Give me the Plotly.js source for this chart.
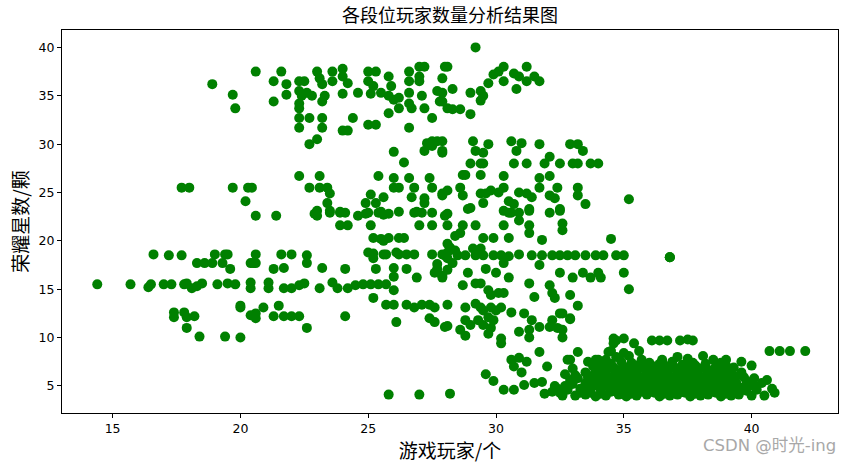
<!DOCTYPE html>
<html>
<head>
<meta charset="utf-8">
<script src="https://cdn.plot.ly/plotly-3.0.1.min.js"></script>
<style>html,body{margin:0;padding:0;background:#fff;}#chart{width:853px;height:465px;}</style>
</head>
<body>
<div id="chart"></div>
<script>
// [游戏玩家/个, 荣耀星数/颗]
const bandTop = [
  [20.6,37.5],[18.9,36.2],[19.7,35.1],[19.8,33.7],
  [21.6,37.5],[21.3,36.5],[21.8,36.2],[21.8,35.1],[21.3,34.4],
  [22.3,36.5],[22.3,35.5],[22.4,35.0],[22.3,34.2],[22.3,33.7],[22.5,36.5],[22.6,35.3],[22.8,35.0],
  [23.0,37.5],[23.1,36.8],[23.2,36.2],[23.3,35.0],[23.2,34.4],[23.6,37.5],[23.6,36.5],
  [24.0,37.8],[24.0,37.0],[24.2,36.3],[24.0,35.2],[24.6,35.3],[25.0,37.5],[25.3,37.5],[25.0,36.5],
  [25.2,36.0],[25.1,35.2],[25.5,35.3],[25.8,37.0],[25.9,36.0],[25.8,35.0],[26.0,34.6],[25.8,33.2],
  [26.2,33.7],[26.2,34.8],[26.6,37.5],[26.6,36.5],[26.6,35.3],[26.6,34.2],[26.7,33.7],[27.0,38.0],
  [27.2,38.0],[27.0,37.0],[27.0,36.5],[27.1,35.0],[27.2,33.7],[27.5,32.7],[28.1,38.0],[27.9,36.8],
  [27.7,35.5],[27.8,34.4],[28.1,33.7],[28.0,38.0],[28.3,35.7],[27.9,35.3],[27.9,34.4],
  [29.2,40.0],[29.0,35.3],[29.4,35.5],[29.5,35.0],[29.4,34.5],[29.7,36.3],[29.9,37.2],[30.1,37.5],
  [30.3,38.0],[30.3,36.5],[30.7,37.3],[30.9,37.0],[31.2,38.0],[31.2,36.5],[31.5,37.0],[31.7,36.5],
  [30.8,35.7],[28.3,33.6],[28.6,33.6],[29.0,33.1]
];
const bandUpper = [
  [22.3,32.7],[22.3,31.7],[22.7,32.7],[23.2,32.7],[23.2,31.7],[24.4,32.7],[24.0,31.4],[24.2,31.4],
  [25.0,32.0],[25.3,32.0],[26.6,31.7],[22.7,30.0],[23.0,30.5],
  [27.3,30.1],[27.5,30.3],[27.7,30.3],[27.2,29.3],[27.5,29.8],[27.9,29.3],[26.0,29.2],[26.4,28.1],
  [27.9,30.3],[27.9,29.1],[29.1,30.3],[29.7,30.0],[29.2,29.3],[29.5,29.1],[30.6,30.3],[31.0,30.1],
  [30.8,29.3],[31.7,30.0],[32.9,30.0],[33.2,30.0],[33.4,29.3],
  [29.0,28.0],[29.4,28.0],[29.5,28.0],[30.7,28.0],[31.2,28.0],[32.1,28.7],[31.9,28.0],[32.5,28.0],
  [33.0,28.0],[33.2,28.0],[33.7,28.0],[34.0,28.0],
  [28.7,26.8],[28.8,26.8],[29.4,26.8],[30.3,26.7],[31.7,26.5],[32.1,26.7],
  [22.3,26.7],[23.1,26.7],[25.4,26.7],[26.0,26.5],[26.6,26.5],[27.4,26.5]
];
const bandMid = [
  [17.7,25.5],[18.0,25.5],[19.7,25.5],[20.3,25.5],[20.45,25.5],[20.2,24.1],[20.6,22.6],
  [22.7,25.5],[23.1,25.5],[23.4,25.5],[23.5,24.9],[26.0,25.5],[26.2,25.5],[26.8,25.5],[27.5,25.5],
  [25.1,24.8],[25.6,24.5],[24.9,23.9],[25.3,23.9],[26.7,24.5],[27.2,24.4],[27.2,23.9],[27.9,24.9],
  [28.1,25.2],[23.4,23.9],[23.0,23.1],[23.0,22.6],[23.5,23.1],[23.9,22.9],[24.1,22.9],[21.4,22.6],
  [24.6,22.6],[25.0,22.9],[25.4,22.9],[25.8,22.8],[26.8,22.9],[27.1,22.9],[27.5,22.9],[28.1,22.8],
  [28.6,25.5],[28.7,24.7],[27.9,24.7],[29.4,24.9],[29.6,24.9],[29.8,25.2],[30.1,25.0],[30.3,25.5],
  [29.5,23.9],[30.5,24.1],[30.7,23.8],[30.9,25.0],[31.2,24.9],[31.4,24.5],[31.3,23.3],[31.7,25.5],
  [32.1,24.7],[32.4,25.5],[32.3,24.4],[32.5,23.3],[33.2,25.5],[33.2,24.7],[33.5,23.8],[35.2,24.3],
  [32.1,22.9],[28.9,23.3],[29.0,23.4],[30.5,22.9],[30.9,22.9],
  [22.9,22.8],[23.5,22.9],[23.9,23.0],[24.9,22.8],[25.5,23.0],[25.6,22.7],[26.2,23.0],[26.9,23.0],
  [28.0,22.6],[30.3,23.1],[30.6,22.9],[31.3,23.1],[32.5,23.1],
  [23.9,21.6],[24.2,21.6],[25.1,21.6],[27.0,21.6],[27.5,21.6],[28.1,21.6],[28.7,21.6],[29.2,21.6],
  [30.3,21.6],[30.9,22.1],[31.3,21.6],[31.3,20.8],[32.6,21.8],[32.6,21.1],
  [25.2,20.3],[25.5,20.2],[25.6,20.0],[25.8,20.3],[26.2,20.3],[26.4,20.3],[28.1,19.7],[28.4,20.5],
  [28.6,20.8],[29.5,20.3],[29.9,20.3],[30.5,20.3],[31.8,20.1],[34.5,20.2]
];
const bandLow = [
  [16.6,18.6],[17.2,18.5],[17.7,18.5],[19.0,18.6],[19.4,18.6],[19.5,18.6],[20.6,18.6],
  [21.6,18.6],[22.0,18.6],[22.6,18.5],[25.0,18.8],[25.2,18.7],[25.2,18.2],[25.6,18.6],[25.7,18.6],
  [26.1,18.8],[26.2,18.6],[26.5,18.6],[26.8,18.6],[27.5,18.6],[27.9,18.6],[28.1,18.8],[28.1,18.2],
  [28.2,19.3],[28.4,19.0],[28.0,18.5],[28.5,18.5],[28.8,18.5],[29.1,19.2],[29.4,19.2],[29.2,18.5],
  [29.5,18.5],[29.9,18.5],[30.2,18.5],[30.5,18.4],[30.9,18.6],[31.4,18.5],[31.8,18.5],[32.2,18.5],
  [32.5,18.5],[32.8,18.5],[33.1,18.5],[33.5,18.5],[33.9,18.5],[34.2,18.5],[34.7,18.5],[35.0,18.5],
  [36.8,18.3],[36.8,18.3],[36.8,18.3],
  [18.3,17.7],[18.6,17.7],[18.9,17.7],[19.3,17.7],[19.6,17.1],[20.4,17.7],[20.6,17.7],[20.5,17.7],
  [21.3,17.1],[21.7,17.2],[22.6,17.7],[23.2,17.2],[24.1,17.1],[25.3,17.1],[26.0,17.2],[26.0,16.3],
  [26.5,17.1],[27.7,17.6],[27.7,17.1],[27.6,16.7],[27.9,16.4],[28.1,17.0],[26.9,16.2],
  [28.3,17.7],[28.9,16.7],[29.6,17.1],[30.0,16.7],[30.3,17.7],[30.5,16.2],[31.7,17.5],[32.5,16.7],
  [33.0,16.2],[33.4,16.7],[33.7,16.2],[34.0,16.7],[34.1,16.2],[35.0,16.7],[27.9,16.2],
  [14.4,15.5],[15.7,15.5],[16.4,15.2],[16.5,15.5],[17.0,15.5],[17.3,15.5],[17.8,15.5],[17.9,15.6],
  [18.1,15.1],[18.3,15.3],[18.5,15.6],[19.1,15.5],[19.5,15.6],[19.8,15.5],[20.4,15.7],[20.4,15.1],
  [21.1,15.7],[21.1,15.1],[21.7,15.1],[22.0,15.1],[22.3,15.4],[22.5,15.6],[23.1,15.1],[23.6,15.7],
  [23.8,15.1],[24.2,15.1],[24.5,15.4],[24.8,15.5],[25.1,15.5],[25.4,15.5],[25.7,15.5],[26.0,14.9],
  [25.2,14.1],[28.7,15.4],[29.2,15.6],[29.4,15.6],[29.7,14.9],[29.8,14.4],[30.1,14.6],[30.3,14.6],
  [31.3,15.6],[31.5,14.2],[32.1,15.4],[32.2,14.6],[32.3,14.1],[32.9,14.4],[33.2,13.3],[35.2,15.0]
];
const bandBottom = [
  [25.7,13.4],[26.0,13.4],[26.5,13.4],[26.8,13.1],[27.1,13.4],[27.4,13.4],[27.6,13.1],[28.1,13.4],
  [20.9,13.1],[21.5,13.3],[20.0,13.3],[20.0,13.1],
  [28.8,13.1],[29.2,13.5],[29.4,13.1],[29.5,12.8],[29.8,13.1],[30.0,12.8],[30.2,13.1],[30.6,12.6],
  [31.1,12.5],[32.5,12.5],[32.9,12.0],[32.6,12.5],[32.9,11.9],
  [17.4,12.6],[17.4,12.1],[17.8,12.6],[17.9,12.1],[18.2,12.2],[20.4,12.3],[20.6,12.5],[20.6,12.0],
  [21.3,12.2],[21.7,12.2],[22.0,12.2],[22.3,12.2],[24.1,12.2],
  [17.9,11.0],[18.4,10.1],[19.4,10.1],[20.0,10.0],[22.6,11.0],[26.1,11.6],[27.4,12.0],[27.6,11.6],
  [28.1,11.2],[28.8,11.8],[29.3,11.8],[29.7,12.1],[29.9,11.8],[31.4,11.8],[32.2,11.8],[28.0,11.1],
  [28.6,10.8],[29.0,11.3],[29.5,11.3],[29.8,11.0],[30.9,10.6],[31.3,10.8],[31.7,11.1],[32.1,11.1],
  [32.4,11.0],[32.6,10.8],[28.8,10.2],[29.7,10.4],[30.2,9.9],[30.2,9.4],[31.3,10.0],[32.6,10.0],
  [31.7,8.5],[30.6,7.7],[30.9,7.9],[31.2,7.5],[30.7,7.0],[31.0,6.4],[33.2,8.5],[32.9,7.7],
  [33.6,7.5],[34.0,7.7],[34.6,9.9],[35.0,9.9],[34.6,9.4],[35.4,9.4],[34.4,8.5],[35.0,8.4],
  [34.7,9.7],[36.1,9.7],[36.4,9.7],[36.7,9.7],[37.2,9.7],[37.5,9.8],[37.7,9.7],
  [40.7,8.6],[41.1,8.6],[41.5,8.6],[42.1,8.6],[34.5,8.6],[35.6,8.6],
  [32.8,7.7],[33.9,7.7],[34.3,7.7],[35.7,7.7],[36.5,7.7],[37.1,8.0],[37.5,7.8],[38.1,8.1],
  [38.5,7.7],[39.0,7.7],[39.6,7.5],[40.0,7.1],
  [25.8,4.1],[27.0,4.1],[28.2,4.2],[29.6,6.2],[29.9,5.5],[30.3,4.6],[30.7,4.6],[31.1,5.1],
  [31.5,5.3],[31.8,5.4],[32.0,7.0],[32.3,5.0],[32.7,6.2],[33.0,6.8],[32.2,4.4],[31.9,4.2]
];
const bandCluster = [
  [32.6,4.0],[33.1,4.0],[33.5,4.1],[33.9,3.9],[34.3,4.0],[34.8,4.1],[35.1,3.9],[35.5,4.0],[35.9,4.1],
  [36.4,3.9],[36.8,4.0],[37.1,4.1],[37.6,3.9],[38.0,4.0],[38.3,4.1],[38.8,3.9],[39.2,4.0],[39.5,4.1],
  [40.0,4.0],[40.5,4.0],
  [33.3,4.3],[33.7,4.3],[34.1,4.2],[34.5,4.4],[35.0,4.3],[35.3,4.2],[35.7,4.4],[36.2,4.3],[36.6,4.2],
  [37.0,4.4],[37.4,4.3],[37.8,4.2],[38.2,4.4],[38.6,4.3],[39.0,4.2],[39.4,4.4],
  [32.8,4.6],[33.3,4.7],[33.7,4.5],[34.1,4.6],[34.5,4.7],[34.9,4.5],[35.3,4.6],[35.7,4.7],[36.1,4.5],
  [36.5,4.6],[36.9,4.7],[37.3,4.5],[37.7,4.6],[38.1,4.7],[38.5,4.5],[38.9,4.6],[39.3,4.7],[39.8,4.5],
  [40.2,4.6],[40.8,4.7],
  [33.6,4.9],[34.0,5.0],[34.4,4.9],[34.8,4.8],[35.2,5.0],[35.6,4.9],[36.0,4.8],[36.4,5.0],[36.8,4.9],
  [37.2,4.8],[37.6,5.0],[38.0,4.9],[38.4,4.8],[38.8,5.0],[39.2,4.9],[39.6,4.8],[40.1,5.0],
  [33.0,5.2],[33.5,5.3],[33.9,5.1],[34.3,5.2],[34.7,5.3],[35.0,5.1],[35.4,5.2],[35.8,5.3],[36.2,5.1],
  [36.6,5.2],[37.0,5.3],[37.4,5.1],[37.8,5.2],[38.2,5.3],[38.6,5.1],[39.0,5.2],[39.4,5.3],[39.9,5.1],
  [40.4,5.3],
  [33.7,5.5],[34.1,5.6],[34.5,5.4],[34.9,5.5],[35.3,5.6],[35.7,5.4],[36.1,5.5],[36.5,5.6],[36.9,5.4],
  [37.3,5.5],[37.7,5.6],[38.1,5.4],[38.5,5.5],[38.9,5.6],[39.3,5.4],[39.8,5.5],
  [33.2,5.8],[33.6,5.9],[34.0,5.7],[34.4,5.8],[34.8,5.9],[35.2,5.7],[35.6,5.8],[36.0,5.9],[36.4,5.7],
  [36.8,5.8],[37.2,5.9],[37.6,5.7],[38.0,5.8],[38.4,5.9],[38.8,5.7],[39.2,5.8],[39.7,5.9],[40.1,5.8],
  [33.8,6.1],[34.2,6.2],[34.6,6.0],[35.0,6.1],[35.4,6.2],[35.8,6.0],[36.2,6.1],[36.6,6.2],[37.0,6.0],
  [37.4,6.1],[37.8,6.2],[38.2,6.0],[38.6,6.1],[39.0,6.2],[39.4,6.0],
  [33.5,6.4],[33.9,6.5],[34.3,6.3],[34.7,6.4],[35.1,6.5],[35.5,6.3],[35.9,6.4],[36.3,6.5],[36.7,6.3],
  [37.1,6.4],[37.5,6.5],[37.9,6.3],[38.3,6.4],[38.7,6.5],[39.1,6.3],[39.6,6.4],
  [34.0,6.7],[34.4,6.8],[34.8,6.6],[35.2,6.7],[35.6,6.8],[36.0,6.6],[36.4,6.7],[36.8,6.8],[37.2,6.6],
  [37.6,6.7],[38.0,6.8],[38.4,6.6],[38.8,6.7],[39.2,6.7],
  [33.8,7.0],[34.2,7.1],[34.6,6.9],[35.0,7.0],[35.4,7.1],[35.8,6.9],[36.2,7.0],[36.6,7.1],[37.0,6.9],
  [37.4,7.0],[37.8,7.1],[38.2,6.9],[38.6,7.0],[39.0,7.1],[39.3,6.9],
  [34.0,7.4],[34.5,7.3],[34.9,7.5],[35.3,7.4],[35.6,7.2],[36.0,7.4],[36.4,7.3],[36.9,7.5],[37.3,7.2],
  [37.7,7.4],[38.2,7.3],[38.8,7.4],[34.7,8.0],[35.2,8.1],
  [32.5,4.3],[32.7,5.0],[32.9,5.6],[33.1,6.1],[32.4,4.7],[40.6,5.6],[40.9,4.3]
];

const allPoints = [].concat(bandTop, bandUpper, bandMid, bandLow, bandBottom, bandCluster);
const xTicks = [15, 20, 25, 30, 35, 40];
const yTicks = [5, 10, 15, 20, 25, 30, 35, 40];

const trace = {
  type: 'scatter',
  mode: 'markers',
  x: allPoints.map(p => p[0]),
  y: allPoints.map(p => p[1]),
  marker: {color: '#008000', size: 10, line: {width: 0}},
  hoverinfo: 'x+y'
};

const axisCommon = {
  showgrid: false, zeroline: false, showline: true, mirror: true,
  linecolor: '#000', linewidth: 1, ticks: 'outside', ticklen: 4, tickwidth: 1, tickcolor: '#000',
  tickfont: {family: 'DejaVu Sans', size: 12.5, color: '#000'}
};

const layout = {
  width: 853, height: 465,
  margin: {l: 62, r: 15, t: 30, b: 52},
  paper_bgcolor: '#fff', plot_bgcolor: '#fff',
  showlegend: false,
  title: {
    text: '各段位玩家数量分析结果图',
    font: {family: 'Noto Sans CJK SC', size: 18, color: '#000'},
    x: 0.5275, xanchor: 'center', y: 0.966, yanchor: 'middle', yref: 'container'
  },
  xaxis: Object.assign({}, axisCommon, {
    range: [13.02, 43.38], tickvals: xTicks, ticktext: xTicks.map(String),
    title: {text: '游戏玩家/个', font: {family: 'Noto Sans CJK SC', size: 19, color: '#000'}, standoff: 4}
  }),
  yaxis: Object.assign({}, axisCommon, {
    range: [2.2, 41.8], tickvals: yTicks, ticktext: yTicks.map(String),
    title: {text: '荣耀星数/颗', font: {family: 'Noto Sans CJK SC', size: 19, color: '#000'}, standoff: 4}
  }),
  annotations: [{
    text: 'CSDN @时光-ing', xref: 'paper', yref: 'paper', x: 1.0, y: -0.085,
    xanchor: 'right', yanchor: 'middle', showarrow: false,
    font: {family: 'DejaVu Sans, Noto Sans CJK SC', size: 16.5, color: '#a8a8a8'}
  }]
};

Plotly.newPlot('chart', [trace], layout, {displayModeBar: false, staticPlot: true});
</script>
</body>
</html>
